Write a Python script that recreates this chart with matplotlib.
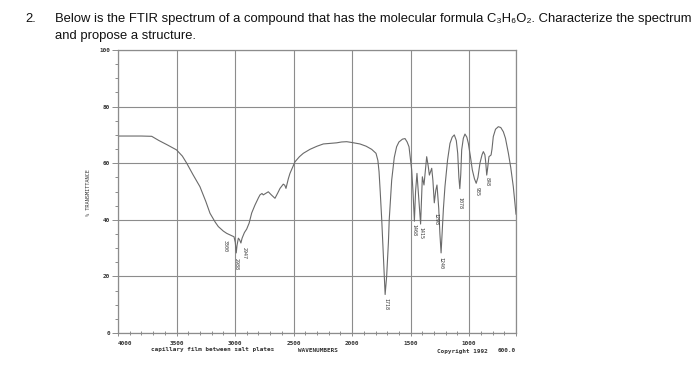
import matplotlib
matplotlib.use("Agg")
import matplotlib.pyplot as plt
import numpy as np

# ---------------- data ----------------
wavenumbers = [4000, 3900, 3800, 3712, 3650, 3580, 3500, 3450, 3413, 3360, 3300, 3250,
               3214, 3170, 3143, 3100, 3071, 3030, 3009, 2998, 2990, 2983, 2972, 2962,
               2950, 2940, 2920, 2901, 2880, 2858, 2830, 2800, 2787, 2770, 2759, 2740,
               2716, 2690, 2659, 2635, 2616, 2588, 2575, 2565, 2545, 2531, 2488, 2450,
               2417, 2360, 2300, 2246, 2190, 2132, 2090, 2046, 2000, 1933, 1880, 1833,
               1796, 1780, 1770, 1760, 1747, 1730, 1718, 1705, 1690, 1683, 1662, 1640,
               1620, 1600, 1570, 1548, 1530, 1514, 1491, 1480, 1468, 1458, 1446, 1435,
               1415, 1405, 1400, 1386, 1375, 1363, 1350, 1340, 1320, 1310, 1298, 1285,
               1275, 1260, 1250, 1240, 1230, 1220, 1207, 1185, 1164, 1145, 1127, 1110,
               1098, 1088, 1080, 1072, 1064, 1050, 1036, 1020, 1007, 990, 973, 955,
               940, 925, 908, 890, 879, 866, 859, 850, 843, 831, 813, 805,
               794, 775, 751, 730, 708, 690, 665, 645, 623, 600]
transmittance = [69.6, 69.6, 69.6, 69.5, 68.0, 66.5, 64.7, 62.5, 60.0, 56.0, 51.7, 46.5,
                 42.3, 39.2, 37.6, 36.0, 35.2, 34.4, 34.0, 32.0, 28.3, 31.0, 33.5, 33.0,
                 31.8, 33.5, 35.5, 36.7, 38.8, 42.4, 45.2, 47.8, 48.8, 49.3, 48.8, 49.3,
                 49.9, 48.8, 47.6, 49.5, 51.1, 52.6, 52.2, 51.1, 54.5, 56.4, 60.5, 62.3,
                 63.5, 64.9, 66.0, 66.8, 67.0, 67.2, 67.5, 67.6, 67.3, 66.8, 66.0, 64.9,
                 63.5, 61.0, 57.0, 50.0, 40.0, 25.0, 13.6, 20.0, 32.0, 40.0, 54.0, 62.0,
                 65.8, 67.5, 68.5, 68.7, 67.5, 65.8, 57.6, 50.0, 39.5, 50.0, 56.4, 50.0,
                 38.5, 50.0, 55.2, 52.3, 57.0, 62.3, 59.0, 55.8, 58.2, 54.0, 46.0, 50.5,
                 52.3, 44.0, 35.0, 28.3, 36.0, 44.0, 51.7, 61.0, 67.0, 69.2, 70.0, 68.0,
                 63.5, 55.0, 51.0, 56.0, 64.7, 68.8, 70.3, 69.2, 67.0, 62.5, 57.6, 54.5,
                 52.9, 55.0, 60.0, 63.0, 64.1, 63.0, 60.5, 55.8, 58.0, 62.3, 62.9, 65.0,
                 69.4, 72.0, 72.9, 72.6, 71.1, 68.8, 63.5, 58.5, 51.7, 42.0]

peak_labels = ["3300", "2988", "2947", "1718", "1468", "1415", "1298", "1240", "1078", "935", "848"]
peak_label_wn = [3086, 2991, 2926, 1712, 1469, 1414, 1285, 1237, 1076, 934, 848]
peak_label_t = [33.0, 26.5, 30.5, 12.5, 38.5, 37.5, 42.5, 27.0, 48.0, 51.5, 55.0]

x_ticks = [4000, 3500, 3000, 2500, 2000, 1500, 1000, 600]
x_tick_labels = ["4000", "3500", "3000", "2500", "2000", "1500", "1000", "600.0"]
y_ticks = [0, 20, 40, 60, 80, 100]
y_tick_labels = ["0", "20", "40", "60", "80", "100"]

title_num = "2."
title_line1 = "Below is the FTIR spectrum of a compound that has the molecular formula C\u2083H\u2086O\u2082. Characterize the spectrum"
title_line2 = "and propose a structure."

# ---------------- figure ----------------
W, H = 700, 371
fig = plt.figure(figsize=(W / 100, H / 100), dpi=100)
fig.patch.set_facecolor("white")

def fx(px):
    return px / W

def fy(py):
    return 1 - py / H

left, right, top, bottom = 118, 516, 50, 333
ax = fig.add_axes([fx(left), fy(bottom), fx(right - left), (bottom - top) / H])

line_col = "#6a6a6a"
grid_col = "#8c8c8c"
txt_col = "#333333"
mono = ["DejaVu Sans Mono"]

ax.plot(wavenumbers, transmittance, color=line_col, lw=0.8)
ax.set_xlim(4000, 600)
ax.set_ylim(0, 100)

ax.set_xticks(x_ticks)
ax.set_xticklabels(x_tick_labels, fontsize=4.3, family=mono, fontweight="bold", color=txt_col)
ax.set_xticks(np.arange(600, 4001, 100), minor=True)
ax.set_yticks(y_ticks)
ax.set_yticklabels(y_tick_labels, fontsize=4.3, family=mono, fontweight="bold", color=txt_col)
ax.set_yticks(np.arange(0, 101, 5), minor=True)
tl = ax.get_xticklabels()
tl[0].set_horizontalalignment("left")
tl[-1].set_horizontalalignment("right")
tl[-1].set_y(-0.025)

ax.tick_params(axis="x", which="both", direction="inout", color=grid_col, width=0.7, pad=3)
ax.tick_params(axis="x", which="major", length=5)
ax.tick_params(axis="x", which="minor", length=3)
ax.tick_params(axis="y", which="both", direction="out", color=grid_col, width=0.7, pad=1.5)
ax.tick_params(axis="y", which="major", length=4)
ax.tick_params(axis="y", which="minor", length=2.5)

ax.grid(True, which="major", color=grid_col, lw=0.8)
for s in ax.spines.values():
    s.set_color(grid_col)
    s.set_linewidth(0.9)

for lab, w, t in zip(peak_labels, peak_label_wn, peak_label_t):
    ax.text(w, t, lab, rotation=270, ha="center", va="top", fontsize=3.6,
            family=mono, color=txt_col)

# axis texts
fig.text(fx(88), fy(193), "% TRANSMITTANCE", rotation=90, ha="center", va="center",
         fontsize=3.8, family=mono, color=txt_col)
fig.text(fx(213), fy(349), "capillary film between salt plates", ha="center", va="center",
         fontsize=4.3, family=mono, fontweight="bold", color=txt_col)
fig.text(fx(318), fy(351), "WAVENUMBERS", ha="center", va="center",
         fontsize=4.3, family=mono, fontweight="bold", color=txt_col)
fig.text(fx(462), fy(351), "Copyright 1992", ha="center", va="center",
         fontsize=4.3, family=mono, fontweight="bold", color=txt_col)

# title
tfam = ["Liberation Sans", "DejaVu Sans"]
fig.text(fx(25), fy(19), title_num, ha="left", va="center", fontsize=9.4, family=tfam, color="#111111")
fig.text(fx(55), fy(19), title_line1, ha="left", va="center", fontsize=9.4, family=tfam, color="#111111")
fig.text(fx(55), fy(36), title_line2, ha="left", va="center", fontsize=9.4, family=tfam, color="#111111")

fig.savefig("out.png", dpi=100)
